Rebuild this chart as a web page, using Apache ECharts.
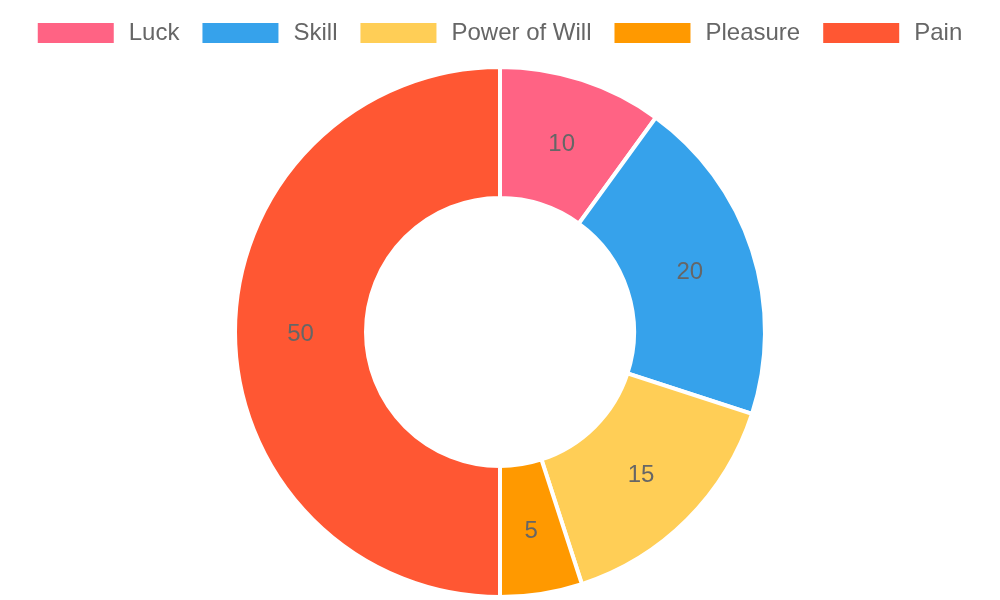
<!DOCTYPE html>
<html>
<head>
<meta charset="utf-8">
<script src="https://cdn.jsdelivr.net/npm/echarts@6/dist/echarts.min.js"></script>
<style>html,body{margin:0;padding:0;background:#fff}#c{width:1000px;height:600px}</style>
</head>
<body>
<div id="c"></div>
<script>
const categories = ['Luck', 'Skill', 'Power of Will', 'Pleasure', 'Pain'];
const values = [10, 20, 15, 5, 50];
const colors = ['#FF6384', '#36A2EB', '#FFCE56', '#FF9900', '#FF5733'];

const pieData = categories.map((n, i) => ({ name: n, value: values[i] }));
const font = 'Liberation Sans, Arial, sans-serif';

const chart = echarts.init(document.getElementById('c'));
chart.setOption({
  animation: false,
  color: colors,
  legend: {
    top: 16,
    left: 'center',
    itemWidth: 76,
    itemHeight: 20,
    itemGap: 23,
    icon: 'rect',
    data: categories,
    itemStyle: { borderWidth: 0 },
    textStyle: { color: '#666', fontSize: 24, fontFamily: font, lineHeight: 20, padding: [0, 0, 0, 10] }
  },
  series: [{
    type: 'pie',
    center: [500, 332],
    radius: [134, 265],
    startAngle: 90,
    clockwise: true,
    data: pieData,
    itemStyle: { borderColor: '#fff', borderWidth: 4 },
    label: { show: false },
    labelLine: { show: false },
    emphasis: { disabled: true }
  }, {
    type: 'pie',
    center: [500, 334],
    radius: [131, 262],
    startAngle: 90,
    clockwise: true,
    silent: true,
    data: pieData,
    itemStyle: { color: 'rgba(0,0,0,0)', borderWidth: 0 },
    label: {
      show: true,
      position: 'inside',
      formatter: '{c}',
      color: '#666',
      fontSize: 24,
      fontFamily: font
    },
    labelLine: { show: false },
    emphasis: { disabled: true }
  }]
});
</script>
</body>
</html>
